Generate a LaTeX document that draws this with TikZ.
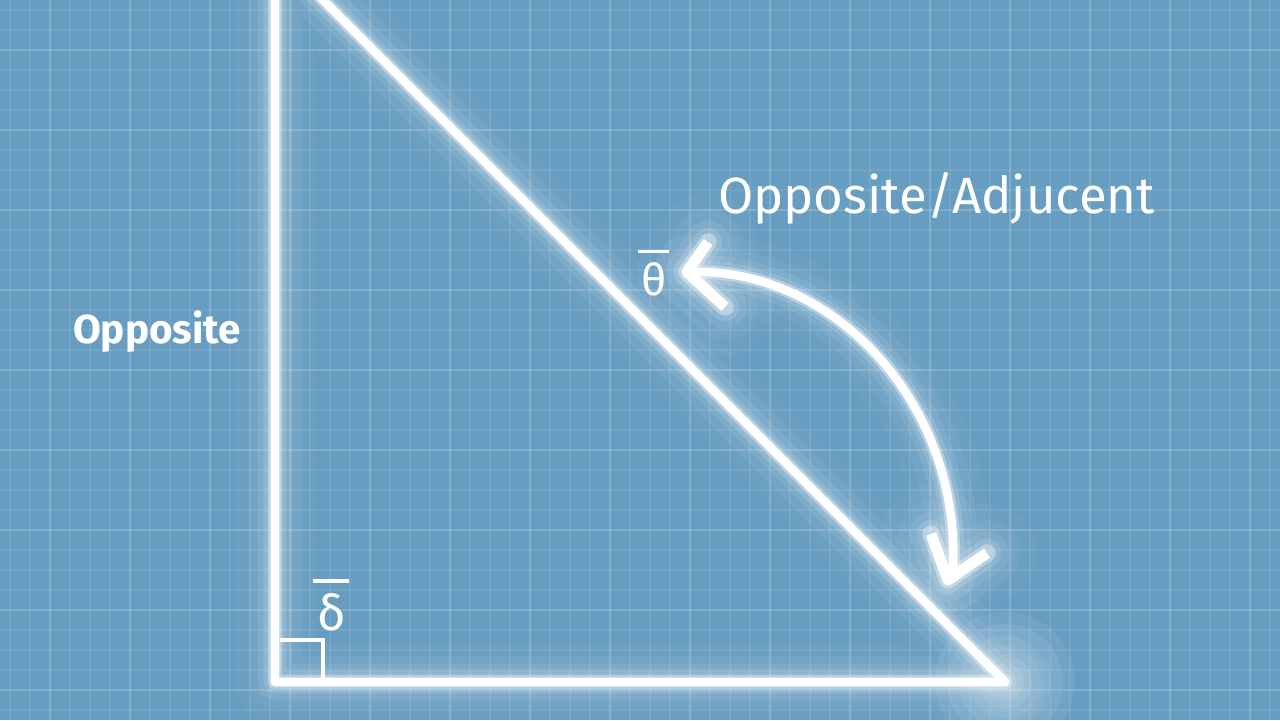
\documentclass[tikz,border=0pt]{standalone}
\usepackage{fontspec}
\setmainfont{Fira Sans}
\usetikzlibrary{calc}
\definecolor{bgblue}{RGB}{102,157,193}
\newcommand\ovl[1]{\leavevmode\vbox{\offinterlineskip\setbox0\hbox{#1}\hbox to \wd0{\hss\vrule width 1.25\wd0 height 0.085em\hss}\kern0.2em\box0}}
\newcommand\glowdraw[2]{%
  \draw[white,opacity=0.04,line width=#1*9.0,line cap=round,line join=round] #2;
  \draw[white,opacity=0.05,line width=#1*6.0,line cap=round,line join=round] #2;
  \draw[white,opacity=0.08,line width=#1*4.0,line cap=round,line join=round] #2;
  \draw[white,opacity=0.14,line width=#1*2.6,line cap=round,line join=round] #2;
  \draw[white,opacity=0.35,line width=#1*1.6,line cap=round,line join=round] #2;
  \draw[white,line width=#1,line join=round] #2;}
\tikzset{
  gridline/.style={white,opacity=0.08,line width=0.7pt},
  gridmajor/.style={white,opacity=0.10,line width=0.9pt},
  lbl/.style={text=white,inner sep=0pt,outer sep=0pt},
}
\begin{document}
\begin{tikzpicture}[x=0.02cm,y=-0.02cm]
\useasboundingbox (0,0) rectangle (1280,720);
\clip (0,0) rectangle (1280,720);
\fill[bgblue] (0,0) rectangle (1280,720);
% grid
\foreach \x in {10,30,...,1270} \draw[gridline] (\x,0) -- (\x,720);
\foreach \y in {10,30,...,710} \draw[gridline] (0,\y) -- (1280,\y);
\foreach \x in {50,130,...,1270} \draw[gridmajor] (\x,0) -- (\x,720);
\foreach \y in {50,130,...,710} \draw[gridmajor] (0,\y) -- (1280,\y);
% triangle
\coordinate (T) at (275,-20);
\coordinate (C) at (275,682);
\coordinate (B) at (1005,682);
\coordinate (H) at (303,-20);
\foreach \r in {70,58,46,36,27,19} \fill[white,opacity=0.07] (B) circle (\r);
\glowdraw{5pt}{(T) -- (C) -- (B) -- (H)}
% right-angle mark
\coordinate (Q1) at (280,640);
\coordinate (Q2) at (323,640);
\coordinate (Q3) at (323,680);
\draw[white,line width=2pt] (Q1) -- (Q2) -- (Q3);
% curved arrow
\coordinate (A1) at (692,272);
\coordinate (A2) at (953,572);
\glowdraw{4.8pt}{(A1) .. controls (830,268) and (962,400) .. (A2)}
\coordinate (P1) at (708,242);
\coordinate (P2) at (687,272);
\coordinate (P3) at (725,307);
\glowdraw{6.2pt}{(P1) -- (P2) -- (P3)}
\coordinate (R1) at (931,534);
\coordinate (R2) at (948,580);
\coordinate (R3) at (987,553);
\glowdraw{6.2pt}{(R1) -- (R2) -- (R3)}
% labels
\node[lbl,anchor=base west,font=\fontsize{23}{28}\selectfont\bfseries] (opp) at (73,343) {Opposite};
\node[lbl,anchor=base west,font=\fontsize{29}{34}\selectfont] (oa) at (718,213) {Opposite/Adjucent};
\node[lbl,anchor=base west,font=\fontsize{25}{30}\selectfont] (th) at (641,295) {\ovl{θ}};
\node[lbl,anchor=base west,font=\fontsize{28}{32}\selectfont] (de) at (317,630) {\ovl{δ}};
\end{tikzpicture}
\end{document}
